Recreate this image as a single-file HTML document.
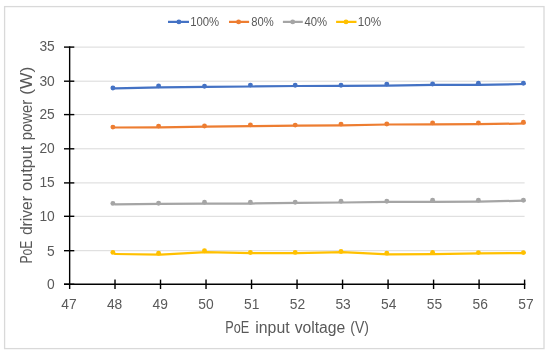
<!DOCTYPE html>
<html><head><meta charset="utf-8"><title>PoE driver output power chart</title>
<style>
html,body{margin:0;padding:0;background:#fff;}
body{width:550px;height:354px;overflow:hidden;}
svg{display:block;}
.t{font-family:'Liberation Sans', Arial, sans-serif;font-size:13.8px;fill:#595959;}
.ti{font-family:'Liberation Sans', Arial, sans-serif;font-size:16px;fill:#595959;}
.lg{font-family:'Liberation Sans', Arial, sans-serif;font-size:12.3px;fill:#595959;}
</style></head><body>
<svg width="550" height="354" viewBox="0 0 550 354">
<rect x="4.6" y="6.6" width="539.4" height="342" fill="#fff" stroke="#d9d9d9" stroke-width="1.3"/>
<line x1="70.20" y1="250.70" x2="524.60" y2="250.70" stroke="#d9d9d9" stroke-width="1"/>
<line x1="70.20" y1="216.30" x2="524.60" y2="216.30" stroke="#d9d9d9" stroke-width="1"/>
<line x1="70.20" y1="182.90" x2="524.60" y2="182.90" stroke="#d9d9d9" stroke-width="1"/>
<line x1="70.20" y1="148.80" x2="524.60" y2="148.80" stroke="#d9d9d9" stroke-width="1"/>
<line x1="70.20" y1="114.60" x2="524.60" y2="114.60" stroke="#d9d9d9" stroke-width="1"/>
<line x1="70.20" y1="81.20" x2="524.60" y2="81.20" stroke="#d9d9d9" stroke-width="1"/>
<line x1="70.20" y1="47.10" x2="524.60" y2="47.10" stroke="#d9d9d9" stroke-width="1"/>
<polyline points="115.0,88.4 160.5,87.4 206.0,86.8 251.5,86.5 297.0,86.0 342.6,85.8 388.1,85.6 433.6,84.8 479.1,84.8 524.6,84.0" fill="none" stroke="#4472C4" stroke-width="2.25" stroke-linejoin="round" stroke-linecap="round"/>
<polyline points="115.0,127.5 160.5,127.3 206.0,126.6 251.5,126.2 297.0,125.7 342.6,125.3 388.1,124.5 433.6,124.3 479.1,124.2 524.6,123.5" fill="none" stroke="#ED7D31" stroke-width="2.25" stroke-linejoin="round" stroke-linecap="round"/>
<polyline points="115.0,204.3 160.5,203.9 206.0,203.6 251.5,203.5 297.0,202.9 342.6,202.5 388.1,201.9 433.6,201.8 479.1,201.7 524.6,200.6" fill="none" stroke="#A5A5A5" stroke-width="2.25" stroke-linejoin="round" stroke-linecap="round"/>
<polyline points="115.0,254.0 160.5,254.7 206.0,252.1 251.5,253.1 297.0,253.1 342.6,252.2 388.1,254.3 433.6,254.1 479.1,253.4 524.6,253.1" fill="none" stroke="#FFC000" stroke-width="2.25" stroke-linejoin="round" stroke-linecap="round"/>
<circle cx="112.9" cy="88.0" r="2.45" fill="#4472C4"/>
<circle cx="158.6" cy="85.9" r="2.45" fill="#4472C4"/>
<circle cx="204.5" cy="86.2" r="2.45" fill="#4472C4"/>
<circle cx="250.4" cy="85.1" r="2.45" fill="#4472C4"/>
<circle cx="295.2" cy="85.2" r="2.45" fill="#4472C4"/>
<circle cx="341.0" cy="85.2" r="2.45" fill="#4472C4"/>
<circle cx="386.8" cy="84.1" r="2.45" fill="#4472C4"/>
<circle cx="432.6" cy="84.0" r="2.45" fill="#4472C4"/>
<circle cx="478.4" cy="83.2" r="2.45" fill="#4472C4"/>
<circle cx="523.4" cy="83.3" r="2.45" fill="#4472C4"/>
<circle cx="112.9" cy="127.1" r="2.45" fill="#ED7D31"/>
<circle cx="158.6" cy="126.1" r="2.45" fill="#ED7D31"/>
<circle cx="204.5" cy="126.0" r="2.45" fill="#ED7D31"/>
<circle cx="250.4" cy="124.9" r="2.45" fill="#ED7D31"/>
<circle cx="295.2" cy="125.1" r="2.45" fill="#ED7D31"/>
<circle cx="341.0" cy="124.1" r="2.45" fill="#ED7D31"/>
<circle cx="386.8" cy="124.0" r="2.45" fill="#ED7D31"/>
<circle cx="432.6" cy="122.9" r="2.45" fill="#ED7D31"/>
<circle cx="478.4" cy="122.9" r="2.45" fill="#ED7D31"/>
<circle cx="523.4" cy="122.3" r="2.45" fill="#ED7D31"/>
<circle cx="112.9" cy="203.4" r="2.45" fill="#A5A5A5"/>
<circle cx="158.6" cy="203.3" r="2.45" fill="#A5A5A5"/>
<circle cx="204.5" cy="202.2" r="2.45" fill="#A5A5A5"/>
<circle cx="250.4" cy="202.3" r="2.45" fill="#A5A5A5"/>
<circle cx="295.2" cy="202.2" r="2.45" fill="#A5A5A5"/>
<circle cx="341.0" cy="201.2" r="2.45" fill="#A5A5A5"/>
<circle cx="386.8" cy="201.3" r="2.45" fill="#A5A5A5"/>
<circle cx="432.6" cy="200.3" r="2.45" fill="#A5A5A5"/>
<circle cx="478.4" cy="200.3" r="2.45" fill="#A5A5A5"/>
<circle cx="523.4" cy="200.3" r="2.45" fill="#A5A5A5"/>
<circle cx="112.9" cy="252.4" r="2.45" fill="#FFC000"/>
<circle cx="158.6" cy="253.2" r="2.45" fill="#FFC000"/>
<circle cx="204.5" cy="250.7" r="2.45" fill="#FFC000"/>
<circle cx="250.4" cy="252.5" r="2.45" fill="#FFC000"/>
<circle cx="295.2" cy="252.4" r="2.45" fill="#FFC000"/>
<circle cx="341.0" cy="251.5" r="2.45" fill="#FFC000"/>
<circle cx="386.8" cy="253.1" r="2.45" fill="#FFC000"/>
<circle cx="432.6" cy="252.5" r="2.45" fill="#FFC000"/>
<circle cx="478.4" cy="252.6" r="2.45" fill="#FFC000"/>
<circle cx="523.4" cy="252.6" r="2.45" fill="#FFC000"/>
<line x1="69.65" y1="46.40" x2="69.65" y2="289.00" stroke="#000" stroke-width="1.4"/>
<line x1="64.00" y1="284.30" x2="525.30" y2="284.30" stroke="#000" stroke-width="1.4"/>
<line x1="64.00" y1="284.30" x2="74.30" y2="284.30" stroke="#000" stroke-width="1.4"/>
<line x1="64.00" y1="250.70" x2="74.30" y2="250.70" stroke="#000" stroke-width="1.4"/>
<line x1="64.00" y1="216.30" x2="74.30" y2="216.30" stroke="#000" stroke-width="1.4"/>
<line x1="64.00" y1="182.90" x2="74.30" y2="182.90" stroke="#000" stroke-width="1.4"/>
<line x1="64.00" y1="148.80" x2="74.30" y2="148.80" stroke="#000" stroke-width="1.4"/>
<line x1="64.00" y1="114.60" x2="74.30" y2="114.60" stroke="#000" stroke-width="1.4"/>
<line x1="64.00" y1="81.20" x2="74.30" y2="81.20" stroke="#000" stroke-width="1.4"/>
<line x1="64.00" y1="47.10" x2="74.30" y2="47.10" stroke="#000" stroke-width="1.4"/>
<line x1="115.01" y1="279.60" x2="115.01" y2="289.00" stroke="#000" stroke-width="1.4"/>
<line x1="160.52" y1="279.60" x2="160.52" y2="289.00" stroke="#000" stroke-width="1.4"/>
<line x1="206.03" y1="279.60" x2="206.03" y2="289.00" stroke="#000" stroke-width="1.4"/>
<line x1="251.54" y1="279.60" x2="251.54" y2="289.00" stroke="#000" stroke-width="1.4"/>
<line x1="297.05" y1="279.60" x2="297.05" y2="289.00" stroke="#000" stroke-width="1.4"/>
<line x1="342.56" y1="279.60" x2="342.56" y2="289.00" stroke="#000" stroke-width="1.4"/>
<line x1="388.07" y1="279.60" x2="388.07" y2="289.00" stroke="#000" stroke-width="1.4"/>
<line x1="433.58" y1="279.60" x2="433.58" y2="289.00" stroke="#000" stroke-width="1.4"/>
<line x1="479.09" y1="279.60" x2="479.09" y2="289.00" stroke="#000" stroke-width="1.4"/>
<line x1="524.60" y1="279.60" x2="524.60" y2="289.00" stroke="#000" stroke-width="1.4"/>
<text x="54.8" y="289.00" text-anchor="end" class="t">0</text>
<text x="54.8" y="255.65" text-anchor="end" class="t">5</text>
<text x="54.8" y="220.90" text-anchor="end" class="t">10</text>
<text x="54.8" y="186.90" text-anchor="end" class="t">15</text>
<text x="54.8" y="153.40" text-anchor="end" class="t">20</text>
<text x="54.8" y="118.75" text-anchor="end" class="t">25</text>
<text x="54.8" y="85.65" text-anchor="end" class="t">30</text>
<text x="54.8" y="50.90" text-anchor="end" class="t">35</text>
<text x="68.90" y="308.7" text-anchor="middle" class="t">47</text>
<text x="114.60" y="308.7" text-anchor="middle" class="t">48</text>
<text x="160.30" y="308.7" text-anchor="middle" class="t">49</text>
<text x="206.00" y="308.7" text-anchor="middle" class="t">50</text>
<text x="251.70" y="308.7" text-anchor="middle" class="t">51</text>
<text x="297.40" y="308.7" text-anchor="middle" class="t">52</text>
<text x="343.10" y="308.7" text-anchor="middle" class="t">53</text>
<text x="388.80" y="308.7" text-anchor="middle" class="t">54</text>
<text x="434.50" y="308.7" text-anchor="middle" class="t">55</text>
<text x="480.20" y="308.7" text-anchor="middle" class="t">56</text>
<text x="525.90" y="308.7" text-anchor="middle" class="t">57</text>
<text x="225.21" y="332.6" class="ti" textLength="23.99" lengthAdjust="spacingAndGlyphs">PoE</text>
<text x="255.31" y="332.6" class="ti" textLength="34.29" lengthAdjust="spacingAndGlyphs">input</text>
<text x="294.70" y="332.6" class="ti" textLength="50.63" lengthAdjust="spacingAndGlyphs">voltage</text>
<text x="350.28" y="332.6" class="ti" textLength="18.61" lengthAdjust="spacingAndGlyphs">(V)</text>
<g transform="translate(32,0) rotate(-90)">
<text x="-263.61" y="0" class="ti" textLength="23.00" lengthAdjust="spacingAndGlyphs">PoE</text>
<text x="-235.10" y="0" class="ti" textLength="39.02" lengthAdjust="spacingAndGlyphs">driver</text>
<text x="-191.00" y="0" class="ti" textLength="45.37" lengthAdjust="spacingAndGlyphs">output</text>
<text x="-140.33" y="0" class="ti" textLength="40.54" lengthAdjust="spacingAndGlyphs">power</text>
<text x="-94.89" y="0" class="ti" textLength="28.07" lengthAdjust="spacingAndGlyphs">(W)</text>
</g>
<line x1="168" y1="21.9" x2="189" y2="21.9" stroke="#4472C4" stroke-width="2.25"/>
<circle cx="178.9" cy="21.9" r="2.45" fill="#4472C4"/>
<text x="190.18" y="26.10" class="lg" textLength="29.04" lengthAdjust="spacingAndGlyphs">100%</text>
<line x1="229" y1="21.9" x2="249.1" y2="21.9" stroke="#ED7D31" stroke-width="2.25"/>
<circle cx="238.6" cy="21.9" r="2.45" fill="#ED7D31"/>
<text x="251.20" y="26.10" class="lg" textLength="22.47" lengthAdjust="spacingAndGlyphs">80%</text>
<line x1="282.9" y1="21.9" x2="302.8" y2="21.9" stroke="#A5A5A5" stroke-width="2.25"/>
<circle cx="292.7" cy="21.9" r="2.45" fill="#A5A5A5"/>
<text x="304.40" y="26.10" class="lg" textLength="22.68" lengthAdjust="spacingAndGlyphs">40%</text>
<line x1="336.1" y1="21.9" x2="356.5" y2="21.9" stroke="#FFC000" stroke-width="2.25"/>
<circle cx="346" cy="21.9" r="2.45" fill="#FFC000"/>
<text x="357.75" y="26.10" class="lg" textLength="23.45" lengthAdjust="spacingAndGlyphs">10%</text>
</svg>
</body></html>
